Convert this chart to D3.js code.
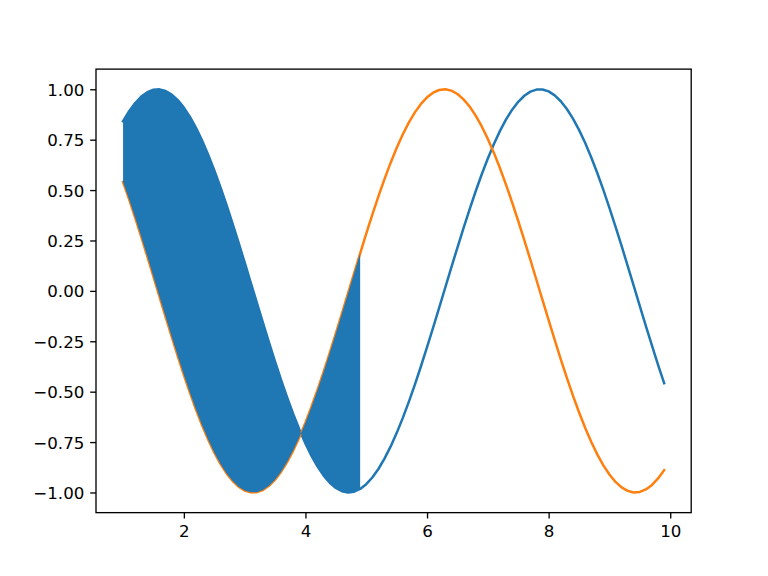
<!DOCTYPE html>
<html><head><meta charset="utf-8">
<script src="https://cdn.jsdelivr.net/npm/d3@7"></script>
<style>html,body{margin:0;padding:0;background:#fff;}svg{display:block;}</style>
</head><body>
<svg id="c" width="768" height="576"></svg>
<script>
const xs = [1.0,1.1,1.2,1.3,1.4,1.5,1.6,1.7,1.8,1.9,2.0,2.1,2.2,2.3,2.4,2.5,2.6,2.7,2.8,2.9,3.0,3.1,3.2,3.3,3.4,3.5,3.6,3.7,3.8,3.9,4.0,4.1,4.2,4.3,4.4,4.5,4.6,4.7,4.8,4.9,5.0,5.1,5.2,5.3,5.4,5.5,5.6,5.7,5.8,5.9,6.0,6.1,6.2,6.3,6.4,6.5,6.6,6.7,6.8,6.9,7.0,7.1,7.2,7.3,7.4,7.5,7.6,7.7,7.8,7.9,8.0,8.1,8.2,8.3,8.4,8.5,8.6,8.7,8.8,8.9,9.0,9.1,9.2,9.3,9.4,9.5,9.6,9.7,9.8,9.9];
const blueY = [0.8415,0.8912,0.9320,0.9636,0.9854,0.9975,0.9996,0.9917,0.9738,0.9463,0.9093,0.8632,0.8085,0.7457,0.6755,0.5985,0.5155,0.4274,0.3350,0.2392,0.1411,0.0416,-0.0584,-0.1577,-0.2555,-0.3508,-0.4425,-0.5298,-0.6119,-0.6878,-0.7568,-0.8183,-0.8716,-0.9162,-0.9516,-0.9775,-0.9937,-0.9999,-0.9962,-0.9825,-0.9589,-0.9258,-0.8835,-0.8323,-0.7728,-0.7055,-0.6313,-0.5507,-0.4646,-0.3739,-0.2794,-0.1822,-0.0831,0.0168,0.1165,0.2151,0.3115,0.4048,0.4941,0.5784,0.6570,0.7290,0.7937,0.8504,0.8987,0.9380,0.9679,0.9882,0.9985,0.9989,0.9894,0.9699,0.9407,0.9022,0.8546,0.7985,0.7344,0.6630,0.5849,0.5010,0.4121,0.3191,0.2229,0.1245,0.0248,-0.0752,-0.1743,-0.2718,-0.3665,-0.4575];
const orangeY = [0.5403,0.4536,0.3624,0.2675,0.1700,0.0707,-0.0292,-0.1288,-0.2272,-0.3233,-0.4161,-0.5048,-0.5885,-0.6663,-0.7374,-0.8011,-0.8569,-0.9041,-0.9422,-0.9710,-0.9900,-0.9991,-0.9983,-0.9875,-0.9668,-0.9365,-0.8968,-0.8481,-0.7910,-0.7259,-0.6536,-0.5748,-0.4903,-0.4008,-0.3073,-0.2108,-0.1122,-0.0124,0.0875,0.1865,0.2837,0.3780,0.4685,0.5544,0.6347,0.7087,0.7756,0.8347,0.8855,0.9275,0.9602,0.9833,0.9965,0.9999,0.9932,0.9766,0.9502,0.9144,0.8694,0.8157,0.7539,0.6845,0.6084,0.5261,0.4385,0.3466,0.2513,0.1534,0.0540,-0.0460,-0.1455,-0.2435,-0.3392,-0.4314,-0.5193,-0.6020,-0.6787,-0.7486,-0.8111,-0.8654,-0.9111,-0.9477,-0.9748,-0.9922,-0.9997,-0.9972,-0.9847,-0.9624,-0.9304,-0.8892];
const fillCount = 40; // fill between first 40 points (x = 1.0 .. 4.9)
const xTicks = [2,4,6,8,10];
const yTicks = [-1.00,-0.75,-0.50,-0.25,0.00,0.25,0.50,0.75,1.00];
const yTickLabels = ["\u22121.00","\u22120.75","\u22120.50","\u22120.25","0.00","0.25","0.50","0.75","1.00"];

const W=768,H=576;
const L=96, R=691.2, T=69.12, B=512.64;
const svg=d3.select("#c");
const x=d3.scaleLinear().domain([0.555,10.345]).range([L,R]);
const y=d3.scaleLinear().domain([-1.1,1.1]).range([B,T]);
const blue="#1f77b4", orange="#ff7f0e";
const data=xs.map((v,i)=>({x:v,b:blueY[i],o:orangeY[i]}));

svg.append("defs").append("clipPath").attr("id","clip").append("rect").attr("x",L).attr("y",T).attr("width",R-L).attr("height",B-T);
const g=svg.append("g").attr("clip-path","url(#clip)");
const line=k=>d3.line().x(d=>x(d.x)).y(d=>y(d[k]));
g.append("path").datum(data).attr("d",line("b")).attr("fill","none").attr("stroke",blue).attr("stroke-width",2.5).attr("stroke-linecap","square").attr("stroke-linejoin","round");
g.append("path").datum(data).attr("d",line("o")).attr("fill","none").attr("stroke",orange).attr("stroke-width",2.5).attr("stroke-linecap","square").attr("stroke-linejoin","round");
const area=d3.area().x(d=>x(d.x)).y0(d=>y(d.o)).y1(d=>y(d.b));
g.append("path").datum(data.slice(0,fillCount)).attr("d",area).attr("fill",blue).attr("stroke","none");

const font='"DejaVu Sans", sans-serif';
const xAxis=svg.append("g").attr("transform",`translate(0,${B})`).call(d3.axisBottom(x).tickValues(xTicks).tickSize(5.83).tickPadding(5.83).tickFormat(d3.format("d")));
const yAxis=svg.append("g").attr("transform",`translate(${L},0)`).call(d3.axisLeft(y).tickValues(yTicks).tickSize(5.83).tickPadding(5.83).tickFormat((d,i)=>yTickLabels[i]));
[xAxis,yAxis].forEach(a=>{a.select(".domain").remove();a.selectAll(".tick line").attr("stroke","#000").attr("stroke-width",1.33);a.selectAll("text").attr("font-family",font).attr("font-size","16.67px").attr("fill","#000");});
xAxis.selectAll("text").attr("dy","0.76em");
yAxis.selectAll("text").attr("dy","0.36em");
svg.append("rect").attr("x",L).attr("y",T).attr("width",R-L).attr("height",B-T).attr("fill","none").attr("stroke","#000").attr("stroke-width",1.33);
</script>
</body></html>
